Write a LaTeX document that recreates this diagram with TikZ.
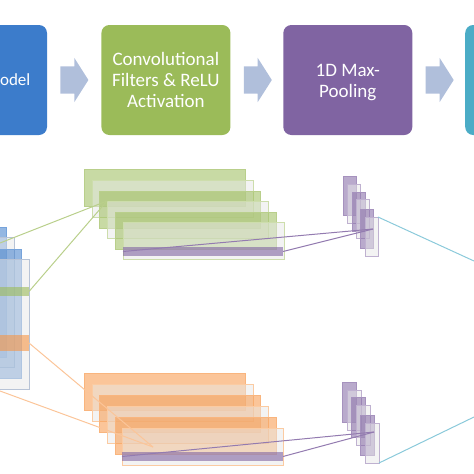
\documentclass[tikz,border=0pt]{standalone}
\usepackage{fontspec}
\setmainfont{Carlito}
\usetikzlibrary{positioning, shapes.arrows}
\definecolor{cblue}{HTML}{3C7CCB}
\definecolor{cgreen}{HTML}{9BBB59}
\definecolor{cpurple}{HTML}{8064A2}
\definecolor{cteal}{HTML}{4BACC6}
\definecolor{corange}{HTML}{F79646}
\definecolor{carrow}{HTML}{B0BFDB}
\definecolor{cslate}{HTML}{6F86AD}
\tikzset{
  stage/.style  = {draw=none, rounded corners=8pt, minimum width=129pt, minimum height=110pt,
                   align=center, text=white, font=\fontsize{19}{21}\selectfont, inner sep=0pt},
  flow/.style   = {single arrow, fill=carrow, minimum height=28pt,
                   single arrow head extend=8.5pt, single arrow head indent=0pt,
                   single arrow tip angle=115, inner xsep=0pt, inner ysep=13.5pt},
  solid/.style  = {draw=#1!70!white, fill=#1, fill opacity=0.55, inner sep=0pt, outer sep=0pt, anchor=north west},
  pale/.style   = {draw=#1!50!white, fill=black!9!white, fill opacity=0.5, inner sep=0pt, outer sep=0pt, anchor=north west},
  wide/.style   = {minimum width=161pt, minimum height=37pt},
  slim/.style   = {minimum width=13pt, minimum height=39pt},
  band/.style   = {fill=#1, fill opacity=0.6, draw=none, inner sep=0pt, outer sep=0pt, anchor=north west},
  link/.style   = {draw=#1, line width=1pt},
}
\begin{document}
\begin{tikzpicture}[x=1pt, y=-1pt]
  \useasboundingbox (0,0) rectangle (474,474);
  \clip (0,0) rectangle (474,474);
  % top row
  \node[stage, fill=cblue] (embed) at (-17.5,80) {};
  \node[anchor=east, text=white, inner sep=0pt, font=\fontsize{17}{21}\selectfont] (embedtxt) at (30.5,80) {odel};
  \node[flow, right=13pt of embed] (flowa) {};
  \node[stage, fill=cgreen, right=54pt of embed] (conv) {Convolutional\\Filters \& ReLU\\Activation};
  \node[flow, right=13pt of conv] (flowb) {};
  \node[stage, fill=cpurple, right=52.5pt of conv] (pool) {\rule{0pt}{17pt}1D Max-\\Pooling};
  \node[flow, right=13pt of pool] (flowc) {};
  \node[stage, fill=cteal, right=52.5pt of pool] (dense) {};
  % input matrix
  \node[solid=cblue, minimum width=90pt, minimum height=130pt] (inpa) at (-84,227) {};
  \node[pale=cslate, minimum width=90pt, minimum height=130pt] (inpb) at (-76,237) {};
  \node[solid=cblue, minimum width=90pt, minimum height=129pt] (inpc) at (-69,249) {};
  \node[pale=cslate, minimum width=90pt, minimum height=130pt] (inpd) at (-61,259) {};
  \node[band=cgreen, minimum width=90pt, minimum height=9pt] (gwin) at (-61,287) {};
  \node[band=corange, minimum width=90pt, minimum height=16pt] (owin) at (-61,335) {};
  % green and orange filters
  \foreach \n/\st/\x/\y in {1/solid/84/169, 2/pale/92/180, 3/solid/99/191, 4/pale/107/201, 5/solid/115/212, 6/pale/123/222}{
    \node[\st=cgreen, wide] (gf\n) at (\x,\y) {};
  }
  \foreach \n/\st/\x/\y in {1/solid/84/373, 2/pale/92/384, 3/solid/99/395, 4/pale/107/406, 5/solid/115/417, 6/pale/122/428}{
    \node[\st=corange, wide] (of\n) at (\x,\y) {};
  }
  \node[band=cpurple, minimum width=160pt, minimum height=9pt] (gout) at (123,247) {};
  \node[band=cpurple, minimum width=161pt, minimum height=9pt] (oout) at (122,452) {};
  % pooled maps
  \foreach \n/\st/\x/\y in {1/solid/343/176, 2/pale/347/184, 3/solid/352/192, 4/pale/356/199, 5/solid/360/209, 6/pale/365/217}{
    \node[\st=cpurple, slim] (gp\n) at (\x,\y) {};
  }
  \foreach \n/\st/\x/\y in {1/solid/342/382, 2/pale/347/390, 3/solid/351/397, 4/pale/356/405, 5/solid/360/415, 6/pale/365/423}{
    \node[\st=cpurple, slim, minimum width=14pt, minimum height=40pt] (op\n) at (\x,\y) {};
  }
  % connectors
  \coordinate (gleft) at (0,243);
  \coordinate (oleft) at (0,391);
  \coordinate (gtip) at (107,201);
  \coordinate (otip) at (153,447);
  \coordinate (gpool) at (373,229);
  \coordinate (opool) at (374,432);
  \coordinate (gteal) at (474,261);
  \coordinate (oteal) at (474,417);
  \draw[link=cgreen!70!white] (gleft) -- (gtip);
  \draw[link=cgreen!70!white] (gwin.east) -- (gtip);
  \draw[link=corange!55!white] (oleft) -- (otip);
  \draw[link=corange!55!white] (owin.east) -- (otip);
  \draw[link=cpurple!85!white] (gout.west) -- (gpool);
  \draw[link=cpurple!85!white] (gout.east) -- (gpool);
  \draw[link=cpurple!85!white] (oout.west) -- (opool);
  \draw[link=cpurple!85!white] (oout.east) -- (opool);
  \draw[link=cteal!65!white] (gp6.north east) -- (gteal);
  \draw[link=cteal!65!white] (op6.south east) -- (oteal);
\end{tikzpicture}
\end{document}
